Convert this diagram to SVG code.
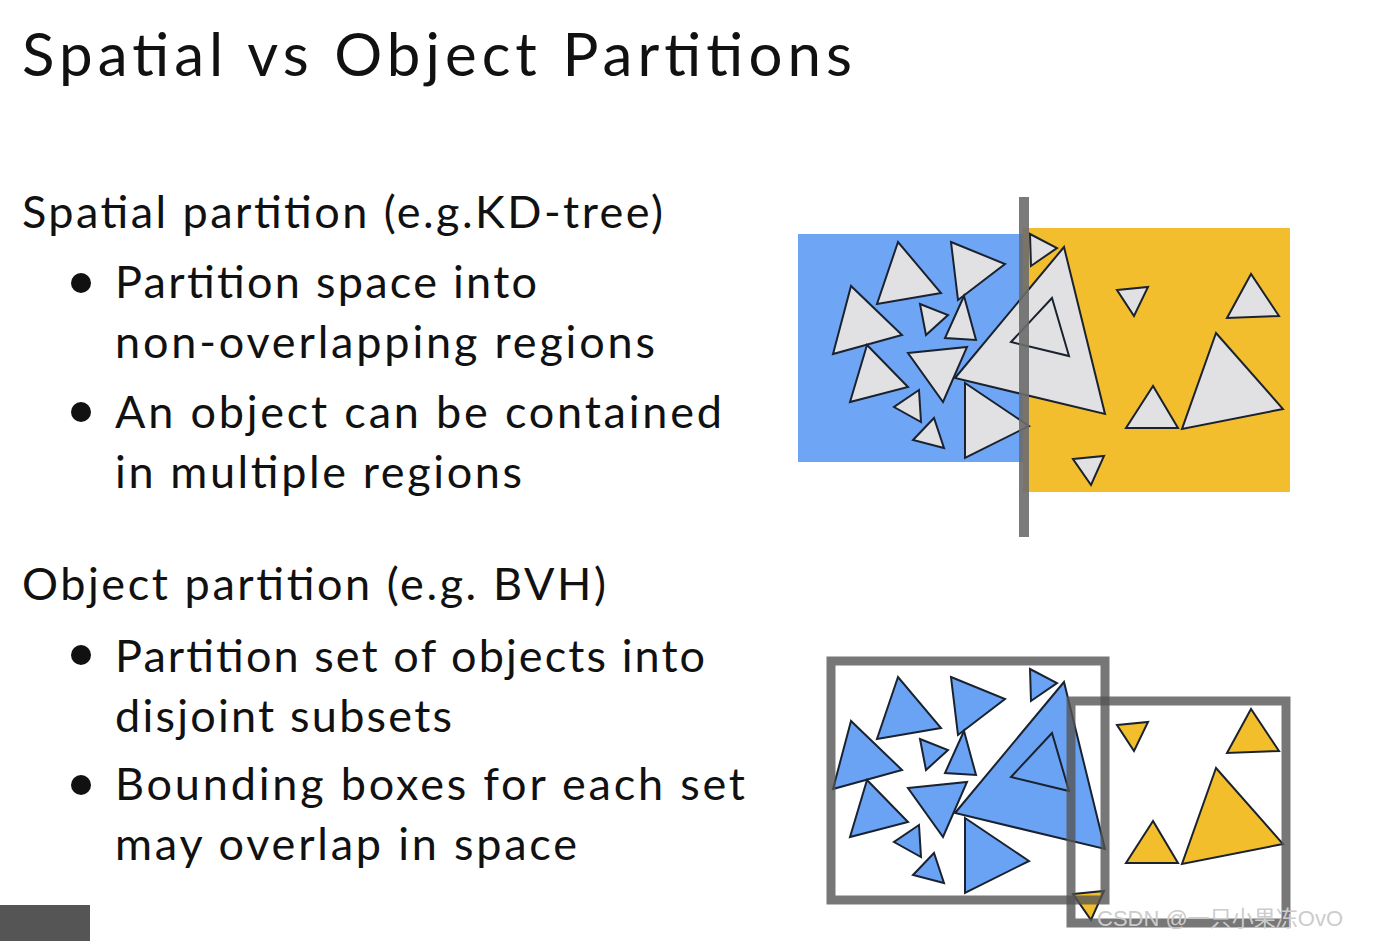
<svg xmlns="http://www.w3.org/2000/svg" width="1383" height="941" viewBox="0 0 1383 941">
<style>
text{font-family:Lato,"Open Sans","Noto Sans",sans-serif;fill:#111}
.h{font-size:60px}
.b{font-size:45px}
.t{stroke:#1a2230;stroke-width:2;stroke-linejoin:miter}
.g{fill:#e1e1e3}
.bl{fill:#6aa3f3}
.yl{fill:#f2be2b}
.box{fill:none;stroke:#555;stroke-opacity:0.8;stroke-width:9}
</style>
<rect width="1383" height="941" fill="#fff"/>
<g id="title"><text class="h" x="22" y="76" textLength="830">Spatial vs Object Partitions</text></g>
<g id="text">
<text class="b" x="22" y="228" textLength="641">Spatial partition (e.g.KD-tree)</text>
<circle cx="81" cy="283" r="10" fill="#111"/>
<text class="b" x="115" y="298" textLength="422">Partition space into</text>
<text class="b" x="115" y="358" textLength="540">non-overlapping regions</text>
<circle cx="81" cy="412" r="10" fill="#111"/>
<text class="b" x="115" y="428" textLength="607">An object can be contained</text>
<text class="b" x="115" y="488" textLength="407">in multiple regions</text>
<text class="b" x="22" y="600" textLength="584">Object partition (e.g. BVH)</text>
<circle cx="81" cy="655" r="10" fill="#111"/>
<text class="b" x="115" y="672" textLength="590">Partition set of objects into</text>
<text class="b" x="115" y="732" textLength="337">disjoint subsets</text>
<circle cx="81" cy="785" r="10" fill="#111"/>
<text class="b" x="115" y="800" textLength="630">Bounding boxes for each set</text>
<text class="b" x="115" y="860" textLength="462">may overlap in space</text>
</g>
<defs>
<g id="L">
<polygon class="t" points="898,242 877,304 941,293"/>
<polygon class="t" points="951,242 1005,264 958,300"/>
<polygon class="t" points="851,286 833,354 902,335"/>
<polygon class="t" points="920,304 948,315 926,335"/>
<polygon class="t" points="964,296 945,338 976,340"/>
<polygon class="t" points="867,345 850,402 908,387"/>
<polygon class="t" points="908,353 967,347 943,402"/>
<polygon class="t" points="919,390 894,407 921,422"/>
<polygon class="t" points="934,418 913,440 944,448"/>
<polygon class="t" points="965,383 1029,426 965,458"/>
<polygon class="t" points="1030,234 1057,248 1031,266"/>
<polygon class="t" points="1064,247 955,378 1105,414"/>
<polygon class="t" points="1052,298 1011,342 1069,356"/>
</g>
<g id="R">
<polygon class="t" points="1117,290 1148,287 1134,316"/>
<polygon class="t" points="1251,274 1227,318 1279,316"/>
<polygon class="t" points="1216,333 1182,429 1283,409"/>
<polygon class="t" points="1153,386 1126,428 1178,428"/>
<polygon class="t" points="1073,459 1104,456 1091,485"/>
</g>
</defs>
<g id="spatial">
<rect x="798" y="234" width="225" height="228" fill="#6ea6f5"/>
<rect x="1023" y="228" width="267" height="264" fill="#f2be2d"/>
<use href="#L" class="g"/>
<use href="#R" class="g"/>
<rect x="1019" y="197" width="10" height="340" fill="#6b6b6b" fill-opacity="0.9"/>
</g>
<g id="object">
<use href="#L" class="bl" transform="translate(0,435)"/>
<use href="#R" class="yl" transform="translate(0,435)"/>
<rect class="box" x="831" y="661" width="274" height="239"/>
<rect class="box" x="1071" y="701" width="215" height="222"/>
</g>
<rect x="0" y="905" width="90" height="36" fill="#555"/>
<text x="1097" y="926" font-size="22" style="fill:#ccc;font-family:'Liberation Sans','Noto Sans CJK SC',sans-serif">CSDN @一只小果冻OvO</text>
</svg>
